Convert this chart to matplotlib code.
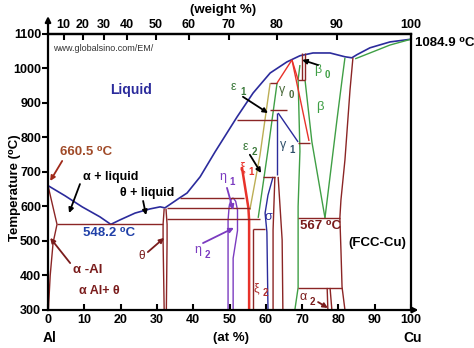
"""
Al-Cu binary phase diagram (after globalsino.com/EM/), redrawn with matplotlib.
Composition in at% Cu, temperature in deg C, values read off the reference.
"""

import matplotlib.pyplot as plt

# --- phase boundaries -------------------------------------------------------
liquidus_at = [0, 4.7, 9.4, 14.3, 17.3, 19.8, 24.0, 28.1, 30.9, 32.2, 36.4, 38.3,
               41.9, 46.0, 52.1, 56.5, 61.2, 65.8, 69.4, 73.0, 77.7, 81.8, 83.7,
               85.1, 88.7, 94.2, 100]
liquidus_T = [660.5, 631, 599, 570, 548.2, 561, 581, 593, 599, 596, 626, 639,
              686, 758, 860, 929, 987, 1019, 1037, 1045, 1045, 1034, 1031,
              1040, 1060, 1077, 1084.9]

cu_solidus_at = [100, 94.2, 88.7, 84.6]
cu_solidus_T = [1084.9, 1068, 1045, 1028]

al_solvus_at = [0, 2.48, 1.4, 0.6, 0.1]
al_solvus_T = [660.5, 548.2, 495, 400, 300]

theta_left_at = [32.0, 31.7, 31.7, 32.0]
theta_left_T = [594, 548.2, 500, 300]
theta_right_at = [32.5, 32.8, 32.8, 32.6]
theta_right_T = [594, 548.2, 500, 300]

cu_solvus_at = [84.0, 83.2, 82.6, 81.8, 80.7, 80.4, 80.7, 81.0, 81.8]
cu_solvus_T = [1031, 938, 851, 735, 619, 567, 474, 367, 300]

beta_right_at = [81.8, 81.0, 79.6, 76.3]
beta_right_T = [1031, 967, 851, 567]
beta_left_at = [70.8, 72.7, 76.3]
beta_left_T = [967, 787, 567]

gamma1_right_at = [69.4, 68.9, 69.4, 68.9, 68.9, 68.0]
gamma1_right_T = [1010, 967, 760, 600, 365, 300]
gamma1_left_at = [63.1, 63.1]
gamma1_left_T = [871, 691]
gamma1_diag_at = [63.4, 68.9]
gamma1_diag_T = [871, 787]

gamma0_left_at = [67.2, 63.1]
gamma0_left_T = [1025, 958]
gamma0_right_at = [67.2, 71.9]
gamma0_right_T = [1025, 790]
beta0_diag_at = [67.2, 68.9]
beta0_diag_T = [1025, 967]
beta0_a_at = [70.0, 70.0]
beta0_a_T = [1045, 967]
beta0_b_at = [70.8, 70.8]
beta0_b_T = [1045, 967]

eps_olive_at = [61.2, 58.4, 55.6]
eps_olive_T = [958, 749, 590]
eps_green_at = [63.1, 60.6, 57.9]
eps_green_T = [958, 764, 567]

xi1_at = [53.4, 55.2, 55.4, 55.4]
xi1_T = [715, 596, 560, 300]
xi2_right_at = [56.5, 56.5]
xi2_right_T = [535, 300]

sigma_left_at = [62.0, 60.6, 59.8, 60.3, 60.6]
sigma_left_T = [686, 633, 581, 526, 300]
sigma_mid_at = [62.5, 62.0, 62.0]
sigma_mid_T = [686, 532, 300]
sigma_right_at = [63.4, 64.5, 64.7]
sigma_right_T = [686, 503, 300]

eta_left_at = [49.6, 49.6, 49.9, 50.4, 51.0]
eta_left_T = [300, 560, 600, 620, 625]
eta_right_at = [51.0, 51.7, 52.2, 52.2, 51.0, 51.0]
eta_right_T = [625, 615, 590, 530, 450, 300]

alpha2_a_at = [76.9, 77.1]
alpha2_a_T = [364, 300]
alpha2_b_at = [77.7, 78.2]
alpha2_b_T = [364, 300]

# isotherms: temperature, from at%, to at%
iso_T = [548.2, 596, 565, 626, 851, 958, 880, 784, 686, 535, 567, 365, 967]
iso_from = [2.48, 32.8, 32.8, 36.4, 52.1, 61.2, 61.2, 68.9, 59.2, 56.5, 68.9, 68.9, 68.9]
iso_to = [31.7, 55.6, 58.5, 54.0, 63.1, 63.1, 65.8, 72.1, 62.5, 59.8, 80.4, 81.0, 70.8]

# axis ticks
at_ticks = [0, 10, 20, 30, 40, 50, 60, 70, 80, 90, 100]
T_ticks = [300, 400, 500, 600, 700, 800, 900, 1000, 1100]
wt_labels = [10, 20, 30, 40, 50, 60, 70, 80, 90, 100]
wt_pos_at = [4.3, 9.5, 15.3, 21.8, 29.7, 38.8, 49.8, 63.0, 79.5, 100]

BLUE = "#2b2b9c"
BROWN = "#8b2525"
RED = "#e8322a"
GREEN = "#3f9f45"
OLIVE = "#bcae55"
PURPLE = "#7b3bc0"
TXT_BROWN = "#a04a28"
DARKRED = "#7a1c1c"

plt.rcParams["font.family"] = ["Liberation Sans", "DejaVu Sans"]
plt.rcParams["font.weight"] = "bold"

fig = plt.figure(figsize=(4.74, 3.48), dpi=100)
ax = fig.add_axes([0.1013, 0.1092, 0.7658, 0.7931])

curves = [
    (liquidus_at, liquidus_T, BLUE, 1.2),
    (cu_solidus_at, cu_solidus_T, GREEN, 1.0),
    (al_solvus_at, al_solvus_T, BROWN, 1.0),
    (theta_left_at, theta_left_T, BROWN, 1.0),
    (theta_right_at, theta_right_T, BROWN, 1.0),
    (cu_solvus_at, cu_solvus_T, BROWN, 1.0),
    (beta_right_at, beta_right_T, GREEN, 1.0),
    (beta_left_at, beta_left_T, GREEN, 1.0),
    (gamma1_right_at, gamma1_right_T, GREEN, 1.0),
    (gamma1_left_at, gamma1_left_T, BLUE, 1.0),
    (gamma1_diag_at, gamma1_diag_T, BLUE, 1.0),
    (gamma0_left_at, gamma0_left_T, RED, 1.0),
    (gamma0_right_at, gamma0_right_T, RED, 1.0),
    (beta0_diag_at, beta0_diag_T, RED, 1.0),
    (beta0_a_at, beta0_a_T, BROWN, 1.0),
    (beta0_b_at, beta0_b_T, BROWN, 1.0),
    (eps_olive_at, eps_olive_T, OLIVE, 1.0),
    (eps_green_at, eps_green_T, GREEN, 1.0),
    (xi1_at, xi1_T, RED, 1.8),
    (xi2_right_at, xi2_right_T, BROWN, 1.0),
    (sigma_left_at, sigma_left_T, BLUE, 1.0),
    (sigma_mid_at, sigma_mid_T, BROWN, 1.0),
    (sigma_right_at, sigma_right_T, BROWN, 1.0),
    (eta_left_at, eta_left_T, PURPLE, 1.0),
    (eta_right_at, eta_right_T, PURPLE, 1.0),
    (alpha2_a_at, alpha2_a_T, BROWN, 1.0),
    (alpha2_b_at, alpha2_b_T, BROWN, 1.0),
]
for xs, ys, c, lw in curves:
    ax.plot(xs, ys, color=c, lw=lw, solid_capstyle="butt")

ax.hlines(iso_T, iso_from, iso_to, color=BROWN, lw=1.0)

ax.set_xlim(0, 100)
ax.set_ylim(300, 1100)
for s in ax.spines.values():
    s.set_linewidth(1.6)

ax.set_xticks(at_ticks)
ax.set_yticks(T_ticks)
ax.tick_params(axis="x", direction="in", length=4, width=1.5, pad=3, labelsize=9)
ax.tick_params(axis="y", direction="out", length=4, width=1.5, pad=1, labelsize=9)

top = ax.secondary_xaxis("top")
top.set_xticks(wt_pos_at, [str(v) for v in wt_labels])
top.tick_params(direction="in", length=4, width=1.5, pad=2, labelsize=9)
top.spines["top"].set_linewidth(1.6)

# axis arrows
arrow_kw = dict(arrowstyle="-|>", color="black", lw=1.6, mutation_scale=8)
ax.annotate("", xy=(1.028, 0), xytext=(0.99, 0), xycoords="axes fraction",
            arrowprops=arrow_kw, annotation_clip=False)
ax.annotate("", xy=(0, 1.075), xytext=(0, 0.99), xycoords="axes fraction",
            arrowprops=arrow_kw, annotation_clip=False)

fig.text(15 / 474, 1 - 188 / 348, "Temperature (⁰C)", rotation=90,
         ha="center", va="center", fontsize=9.5)
ax.text(48.2, 1171, "(weight %)", ha="center", va="center", fontsize=9.5)
ax.text(0.3, 218, "Al", ha="center", va="center", fontsize=10)
ax.text(100.5, 220, "Cu", ha="center", va="center", fontsize=10)
ax.text(50.3, 218, "(at %)", ha="center", va="center", fontsize=9.5)

# region and temperature labels
ax.text(1.4, 1057, "www.globalsino.com/EM/", fontsize=6.5, weight="normal",
        color="#333333", va="center")
ax.text(22.9, 938, "Liquid", color=BLUE, fontsize=10, ha="center", va="center")
ax.text(3.3, 758, "660.5 ⁰C", color=TXT_BROWN, fontsize=9.5, va="center")
ax.text(9.6, 686, "α + liquid", fontsize=9, va="center")
ax.text(19.8, 639, "θ + liquid", fontsize=9, va="center")
ax.text(9.6, 523, "548.2 ⁰C", color="#2040a8", fontsize=9.5, va="center")
ax.text(6.8, 416, "α -Al", color=DARKRED, fontsize=9.5, va="center")
ax.text(8.6, 355, "α Al+ θ", color=DARKRED, fontsize=9, va="center")
ax.text(25.0, 457, "θ", color=DARKRED, fontsize=8.5, weight="normal", va="center")
ax.text(69.4, 544, "567 ⁰C", color=DARKRED, fontsize=9.5, va="center")
ax.text(90.8, 494, "(FCC-Cu)", fontsize=9.5, ha="center", va="center")
ax.text(101.2, 1075, "1084.9 ⁰C", fontsize=9.5, va="center")


def phase(x, t, sym, sub, color):
    ax.text(x, t, sym, color=color, fontsize=9, weight="normal",
            ha="center", va="center")
    ax.text(x + 2.6, t - 15, sub, color=color, fontsize=7,
            ha="center", va="center")


phase(48.2, 686, "η", "1", PURPLE)
phase(41.3, 474, "η", "2", PURPLE)
phase(53.4, 715, "ξ", "1", RED)
phase(57.3, 364, "ξ", "2", "#b03030")
phase(51.0, 947, "ε", "1", "#3c7a3c")
phase(54.3, 773, "ε", "2", "#3c7a3c")
phase(64.7, 778, "γ", "1", "#2f4f6a")
phase(64.5, 938, "γ", "0", "#4a6a3a")
phase(74.4, 996, "β", "0", GREEN)
phase(70.2, 338, "α", "2", DARKRED)
ax.text(74.9, 889, "β", color=GREEN, fontsize=9.5, weight="normal",
        ha="center", va="center")
ax.text(60.6, 570, "σ", color=BLUE, fontsize=9, weight="normal",
        ha="center", va="center")


def pointer(tail, head, color):
    ax.annotate("", xy=head, xytext=tail,
                arrowprops=dict(arrowstyle="-|>", color=color, lw=1.3,
                                mutation_scale=7, shrinkA=0, shrinkB=0))


pointer((3.9, 732), (0.6, 674), "#a02a1a")
pointer((8.8, 665), (5.8, 581), "black")
pointer((26.2, 616), (27.0, 575), "black")
pointer((6.1, 436), (0.6, 509), DARKRED)
pointer((27.5, 468), (32.0, 509), DARKRED)
pointer((49.3, 654), (51.0, 590), PURPLE)
pointer((42.7, 494), (51.2, 538), PURPLE)
pointer((53.7, 918), (60.6, 871), "black")
pointer((55.6, 750), (58.7, 697), "black")
pointer((74.4, 1010), (70.0, 1025), "black")
pointer((74.4, 323), (77.1, 306), DARKRED)

fig.savefig("out.png", dpi=100)
